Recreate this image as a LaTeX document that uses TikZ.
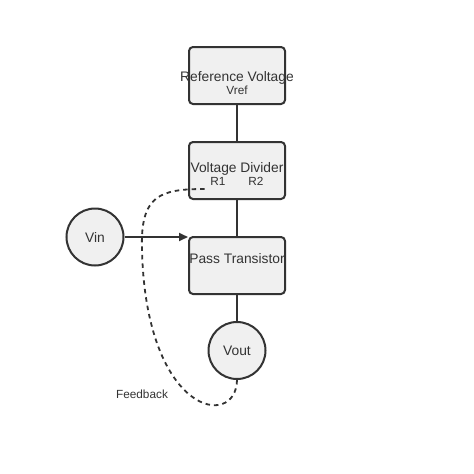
\documentclass[tikz,border=0pt]{standalone}
\usepackage{fontspec}
\setmainfont{Liberation Sans}
\usetikzlibrary{arrows.meta}
\definecolor{boxfill}{HTML}{F0F0F0}
\definecolor{boxline}{HTML}{333333}
\definecolor{txt}{HTML}{333333}
\begin{document}
\begin{tikzpicture}[x=1pt,y=-1pt,
  blockbox/.style={draw=boxline,fill=boxfill,line width=2pt,rounded corners=4pt,minimum width=96pt,minimum height=57pt,inner sep=0pt},
  roundnode/.style={circle,draw=boxline,fill=boxfill,line width=2pt,minimum size=57pt,inner sep=0pt},
  mainlbl/.style={anchor=base,font=\fontsize{13.8}{15}\selectfont,text=txt,inner sep=0pt},
  sublbl/.style={anchor=base,font=\fontsize{11.8}{13}\selectfont,text=txt,inner sep=0pt},
  conn/.style={draw=boxline,line width=2pt},
  fb/.style={draw=boxline,line width=1.8pt,dash pattern=on 4.5pt off 4pt}]
\useasboundingbox (0,0) rectangle (474,474);
\fill[white] (0,0) rectangle (474,474);
\node[blockbox] (ref) at (237,75.5) {};
\node[blockbox] (vd) at (237,170.5) {};
\node[blockbox] (pt) at (237,265.5) {};
\node[roundnode] (vin) at (95,237) {};
\node[roundnode] (vout) at (237,350.5) {};
\node[mainlbl] (reft) at (237,81.5) {Reference Voltage};
\node[sublbl] (refs) at (237,94.5) {Vref};
\node[mainlbl] (vdt) at (237,172.5) {Voltage Divider};
\node[sublbl] (vdr1) at (218,185) {R1};
\node[sublbl] (vdr2) at (256,185) {R2};
\node[mainlbl] (ptt) at (237,263) {Pass Transistor};
\node[font=\fontsize{13.8}{15}\selectfont,text=txt] (vint) at (vin) {Vin};
\node[font=\fontsize{13.8}{15}\selectfont,text=txt] (voutt) at (vout) {Vout};
\node[font=\fontsize{11.8}{13}\selectfont,text=txt] (fbl) at (142,394) {Feedback};
\draw[conn] (ref.south) -- (vd.north);
\draw[conn] (vd.south) -- (pt.north);
\draw[conn] (pt.south) -- (vout.north);
\draw[conn,-{Triangle[length=9pt,width=8pt]}] (vin.east) -- (vin.east -| pt.west);
\coordinate (fbend) at (205,189);
\coordinate (fbmid) at (142,250);
\draw[fb] (vout.south) .. controls (236,430) and (146,415) .. (fbmid)
  .. controls (140,195) and (160,189) .. (fbend);
\end{tikzpicture}
\end{document}
